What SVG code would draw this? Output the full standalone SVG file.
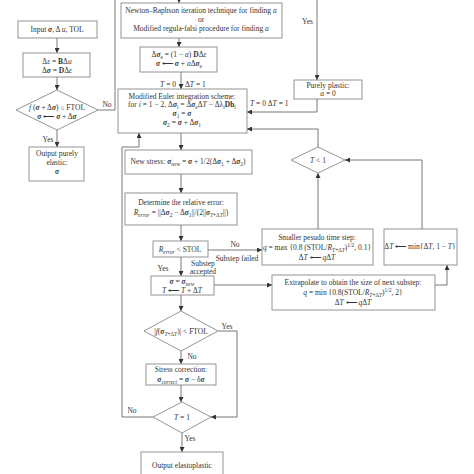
<svg xmlns="http://www.w3.org/2000/svg" width="474" height="474" viewBox="0 0 474 474">
<defs>
<marker id="ah" viewBox="0 0 8 8" refX="8" refY="4" markerWidth="5" markerHeight="5" orient="auto" markerUnits="userSpaceOnUse">
<path d="M0,0 L8,4 L0,8 z" fill="#333"/>
</marker>
<style>
text{font-family:"Liberation Serif","Times New Roman",serif;font-size:7.5px;fill:#333;text-anchor:middle}
.l{text-anchor:start}
.e{text-anchor:end}
.b{font-weight:bold;font-style:italic}
.i{font-style:italic}
.bd{font-weight:bold}
.s{font-size:5.5px;baseline-shift:-1.5px}
.p{font-size:5.5px;baseline-shift:3px}
.box{fill:#fff;stroke:#888;stroke-width:0.9}
.c{fill:none;stroke:#555;stroke-width:0.8}
.a{marker-end:url(#ah)}
</style>
</defs>
<rect width="474" height="474" fill="#fff"/>

<g id="connectors">
<path class="c a" d="M179,-2 V3"/>
<path class="c a" d="M317,0 V80"/>
<path class="c a" d="M317,99 V112 H247"/>
<path class="c a" d="M179,38 V47"/>
<path class="c a" d="M181,72 V89"/>
<path class="c a" d="M181,133 V150"/>
<path class="c a" d="M181,174 V193"/>
<path class="c a" d="M181,225 V241"/>
<path class="c a" d="M208,250 H262"/>
<path class="c a" d="M181,257 V276"/>
<path class="c a" d="M214,285 H272"/>
<path class="c a" d="M435,285 H447 V265"/>
<path class="c a" d="M422,229 V160 H345"/>
<path class="c a" d="M318,229 V173"/>
<path class="c a" d="M318,147 V129 H247"/>
<path class="c a" d="M181,295 V311"/>
<path class="c a" d="M218,331 H237 V417 H211"/>
<path class="c a" d="M181,351 V364"/>
<path class="c a" d="M181,385 V402"/>
<path class="c a" d="M153,417 H122 V147 H139 V133"/>
<path class="c a" d="M182,433 V452"/>
<path class="c a" d="M57,38 V53"/>
<path class="c a" d="M57,77 V90"/>
<path class="c a" d="M57,130 V147"/>
<path class="c" d="M98,110 H115 V0"/>
<text x="313" y="24" class="e">Yes</text>
<text x="250" y="106" class="l"><tspan class="i">T</tspan> = 0  Δ<tspan class="i">T</tspan> = 1</text>
<text x="176" y="87" class="e"><tspan class="i">T</tspan> = 0</text>
<text x="185" y="87" class="l">Δ<tspan class="i">T</tspan> = 1</text>
<text x="235" y="247">No</text>
<text x="237" y="261">Substep failed</text>
<text x="163" y="271">Yes</text>
<text x="203" y="265.5">Substep</text>
<text x="203" y="274">accepted</text>
<text x="227" y="329">Yes</text>
<text x="192" y="359">No</text>
<text x="132" y="413">No</text>
<text x="190" y="441">Yes</text>
<text x="48" y="142">Yes</text>
<text x="107" y="107">No</text>
</g>

<g id="input">
<rect class="box" x="18" y="21" width="79" height="17"/>
<text x="57" y="32">Input <tspan class="b">σ</tspan>, Δ <tspan class="i">u</tspan>, TOL</text>
</g>
<g id="strain">
<rect class="box" x="23" y="53" width="67" height="24"/>
<text x="57" y="64">Δ<tspan class="i">ε</tspan> = <tspan class="bd">B</tspan>Δ<tspan class="i">u</tspan></text>
<text x="57" y="73">Δ<tspan class="b">σ</tspan> = <tspan class="bd">D</tspan>Δ<tspan class="i">ε</tspan></text>
</g>
<g id="elastic-check">
<path class="box" d="M57,90 L98,110 L57,130 L16,110 z"/>
<text x="57" y="110"><tspan class="i">f</tspan> (<tspan class="b">σ</tspan> + Δ<tspan class="b">σ</tspan>) ≤ FTOL</text>
<text x="57" y="119"><tspan class="b">σ</tspan> ⟵ <tspan class="b">σ</tspan> + Δ<tspan class="b">σ</tspan></text>
</g>
<g id="output-elastic">
<rect class="box" x="29" y="147" width="55" height="34"/>
<text x="57" y="156">Output purely</text>
<text x="57" y="165">elastic:</text>
<text x="57" y="174" class="b">σ</text>
</g>

<g id="newton">
<rect class="box" x="121" y="3" width="161" height="35"/>
<text x="201" y="13">Newton–Raphson iteration technique for finding <tspan class="i">a</tspan></text>
<text x="201" y="22">or</text>
<text x="201" y="31">Modified regula-falsi procedure for finding <tspan class="i">a</tspan></text>
</g>
<g id="elastic-part">
<rect class="box" x="140" y="47" width="77" height="25"/>
<text x="179" y="57">Δ<tspan class="b">σ</tspan><tspan class="s">e</tspan> = (1 − <tspan class="i">a</tspan>) <tspan class="bd">D</tspan>Δ<tspan class="i">ε</tspan></text>
<text x="179" y="66"><tspan class="b">σ</tspan> ⟵ <tspan class="b">σ</tspan> + <tspan class="i">a</tspan>Δ<tspan class="b">σ</tspan><tspan class="s">e</tspan></text>
</g>
<g id="purely-plastic">
<rect class="box" x="294" y="80" width="68" height="19"/>
<text x="328" y="88">Purely plastic:</text>
<text x="328" y="96"><tspan class="i">a</tspan> = 0</text>
</g>
<g id="euler">
<rect class="box" x="118" y="89" width="129" height="44"/>
<text x="182" y="99">Modified Euler integration scheme:</text>
<text x="182" y="107">for <tspan class="i">i</tspan> = 1 − 2, Δ<tspan class="b">σ</tspan><tspan class="s">i</tspan> = Δ<tspan class="b">σ</tspan><tspan class="s">e</tspan>Δ<tspan class="i">T</tspan> − Δλ<tspan class="s">i</tspan><tspan class="bd">Db</tspan><tspan class="s">i</tspan></text>
<text x="182" y="116"><tspan class="b">σ</tspan><tspan class="s">1</tspan> = <tspan class="b">σ</tspan></text>
<text x="182" y="125"><tspan class="b">σ</tspan><tspan class="s">2</tspan> = <tspan class="b">σ</tspan> + Δ<tspan class="b">σ</tspan><tspan class="s">1</tspan></text>
</g>
<g id="new-stress">
<rect class="box" x="125" y="150" width="127" height="24"/>
<text x="188" y="164">New stress: <tspan class="b">σ</tspan><tspan class="s i">new</tspan> = <tspan class="b">σ</tspan> + 1/2(Δ<tspan class="b">σ</tspan><tspan class="s">1</tspan> + Δ<tspan class="b">σ</tspan><tspan class="s">2</tspan>)</text>
</g>
<g id="rel-error">
<rect class="box" x="125" y="193" width="112" height="32"/>
<text x="181" y="205">Determine the relative error:</text>
<text x="181" y="215"><tspan class="i">R</tspan><tspan class="s i">error</tspan> = ||Δ<tspan class="b">σ</tspan><tspan class="s">2</tspan> − Δ<tspan class="b">σ</tspan><tspan class="s">1</tspan>||/(2||<tspan class="b">σ</tspan><tspan class="s"><tspan class="i">T</tspan>+Δ<tspan class="i">T</tspan></tspan>||)</text>
</g>
<g id="stol-check">
<rect class="box" x="153" y="241" width="55" height="16"/>
<text x="180" y="252"><tspan class="i">R</tspan><tspan class="s i">error</tspan> &lt; STOL</text>
</g>
<g id="smaller-step">
<rect class="box" x="262" y="229" width="111" height="36"/>
<text x="317" y="240">Smaller pesudo time step:</text>
<text x="317" y="250"><tspan class="i">q</tspan> = max {0.8 (STOL/<tspan class="i">R</tspan><tspan class="s"><tspan class="i">T</tspan>+Δ<tspan class="i">T</tspan></tspan>)<tspan class="p">1/2</tspan>, 0.1}</text>
<text x="317" y="260">Δ<tspan class="i">T</tspan> ⟵ <tspan class="i">q</tspan>Δ<tspan class="i">T</tspan></text>
</g>
<g id="dt-min">
<rect class="box" x="384" y="229" width="73" height="36"/>
<text x="420" y="249">Δ<tspan class="i">T</tspan> ⟵ min{Δ<tspan class="i">T</tspan>, 1 − <tspan class="i">T</tspan>}</text>
</g>
<g id="t-lt-1">
<path class="box" d="M318,147 L345,160 L318,173 L291,160 z"/>
<text x="318" y="163"><tspan class="i">T</tspan> &lt; 1</text>
</g>
<g id="accept">
<rect class="box" x="151" y="276" width="63" height="19"/>
<text x="182" y="284"><tspan class="b">σ</tspan> = <tspan class="b">σ</tspan><tspan class="s i">new</tspan></text>
<text x="182" y="293"><tspan class="i">T</tspan> ⟵ <tspan class="i">T</tspan> + Δ<tspan class="i">T</tspan></text>
</g>
<g id="extrapolate">
<rect class="box" x="272" y="275" width="163" height="35"/>
<text x="353" y="285">Extrapolate to obtain the size of next substep:</text>
<text x="353" y="295"><tspan class="i">q</tspan> = min {0.8(STOL/<tspan class="i">R</tspan><tspan class="s"><tspan class="i">T</tspan>+Δ<tspan class="i">T</tspan></tspan>)<tspan class="p">1/2</tspan>, 2}</text>
<text x="353" y="305">Δ<tspan class="i">T</tspan> ⟵ <tspan class="i">q</tspan>Δ<tspan class="i">T</tspan></text>
</g>
<g id="ftol-check">
<path class="box" d="M181,311 L218,331 L181,351 L144,331 z"/>
<text x="181" y="334">|<tspan class="i">f</tspan>(<tspan class="b">σ</tspan><tspan class="s"><tspan class="i">T</tspan>+Δ<tspan class="i">T</tspan></tspan>)| &lt; FTOL</text>
</g>
<g id="correction">
<rect class="box" x="146" y="364" width="70" height="21"/>
<text x="181" y="372">Stress correction:</text>
<text x="181" y="382"><tspan class="b">σ</tspan><tspan class="s i">correct</tspan> = <tspan class="b">σ</tspan> − δ<tspan class="b">σ</tspan></text>
</g>
<g id="t-eq-1">
<path class="box" d="M182,402 L211,417 L182,433 L153,417 z"/>
<text x="182" y="420"><tspan class="i">T</tspan> = 1</text>
</g>
<g id="output-elastoplastic">
<rect class="box" x="141" y="452" width="82" height="30"/>
<text x="182" y="468">Output elastoplastic</text>
</g>
</svg>
